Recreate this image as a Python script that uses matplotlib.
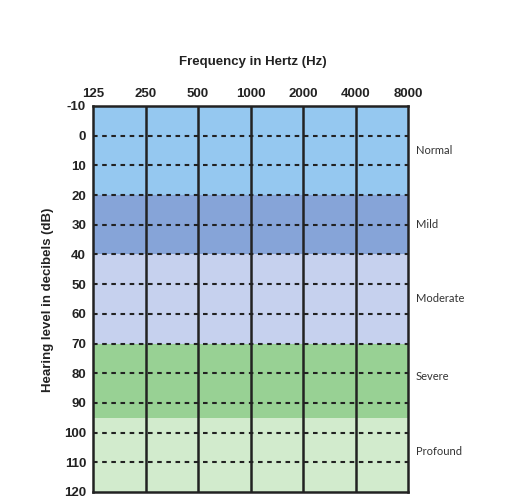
import matplotlib.pyplot as plt
import numpy as np

plt.rcParams['axes.unicode_minus'] = False

# audiogram frame: frequencies across the top, hearing level down the side
freqs = [125, 250, 500, 1000, 2000, 4000, 8000]
db_ticks = list(range(-10, 121, 10))
dash_levels = list(range(0, 111, 10))

# hearing loss bands (top dB, bottom dB)
band_names = ['Normal', 'Mild', 'Moderate', 'Severe', 'Profound']
band_top = [-10, 20, 40, 70, 95]
band_bottom = [20, 40, 70, 95, 120]
band_label_y = [5, 30, 55, 81, 106.5]
band_colors = ['#95c8f0', '#86a4d8', '#c6d1ee', '#98d194', '#d2ebcd']

fig = plt.figure(figsize=(5.32, 5.04), dpi=100)
ax = fig.add_axes([93 / 532, 1 - 492 / 504, 315 / 532, 386 / 504])

for top, bot, col, name, ly in zip(band_top, band_bottom, band_colors, band_names, band_label_y):
    ax.axhspan(top, bot, color=col, lw=0, zorder=0)
    ax.text(1.025, ly, name, transform=ax.get_yaxis_transform(),
            ha='left', va='center', fontsize=8, family='Lato', color='#333333')

for lvl in dash_levels:
    ax.axhline(lvl, color='#222222', lw=1.5, ls=(0, (2.2, 2.2)), zorder=1)

for f in freqs[1:-1]:
    ax.axvline(f, color='#222222', lw=1.8, zorder=2)

ax.set_xscale('log', base=2)
ax.set_xlim(freqs[0], freqs[-1])
ax.set_ylim(120, -10)
ax.set_xticks(freqs)
ax.set_xticklabels([str(f) for f in freqs])
ax.minorticks_off()
ax.set_yticks(db_ticks)
ax.xaxis.tick_top()
ax.tick_params(length=0, labelsize=9.5)
ax.tick_params(axis='x', pad=4)
ax.tick_params(axis='y', pad=5)
for lab in ax.get_xticklabels() + ax.get_yticklabels():
    lab.set_fontweight('bold')
    lab.set_family('Liberation Sans')
    lab.set_color('#222222')

for sp in ax.spines.values():
    sp.set_color('#222222')
    sp.set_linewidth(1.8)

fig.text(253 / 532, 1 - 62 / 504, 'Frequency in Hertz (Hz)', ha='center', va='center',
         fontsize=9.5, fontweight='bold', family='Liberation Sans', color='#222222')
fig.text(48 / 532, 1 - 300 / 504, 'Hearing level in decibels (dB)', ha='center',
         va='center', rotation=90, fontsize=9.5, fontweight='bold',
         family='Liberation Sans', color='#222222')

fig.savefig('out.png', dpi=100)
